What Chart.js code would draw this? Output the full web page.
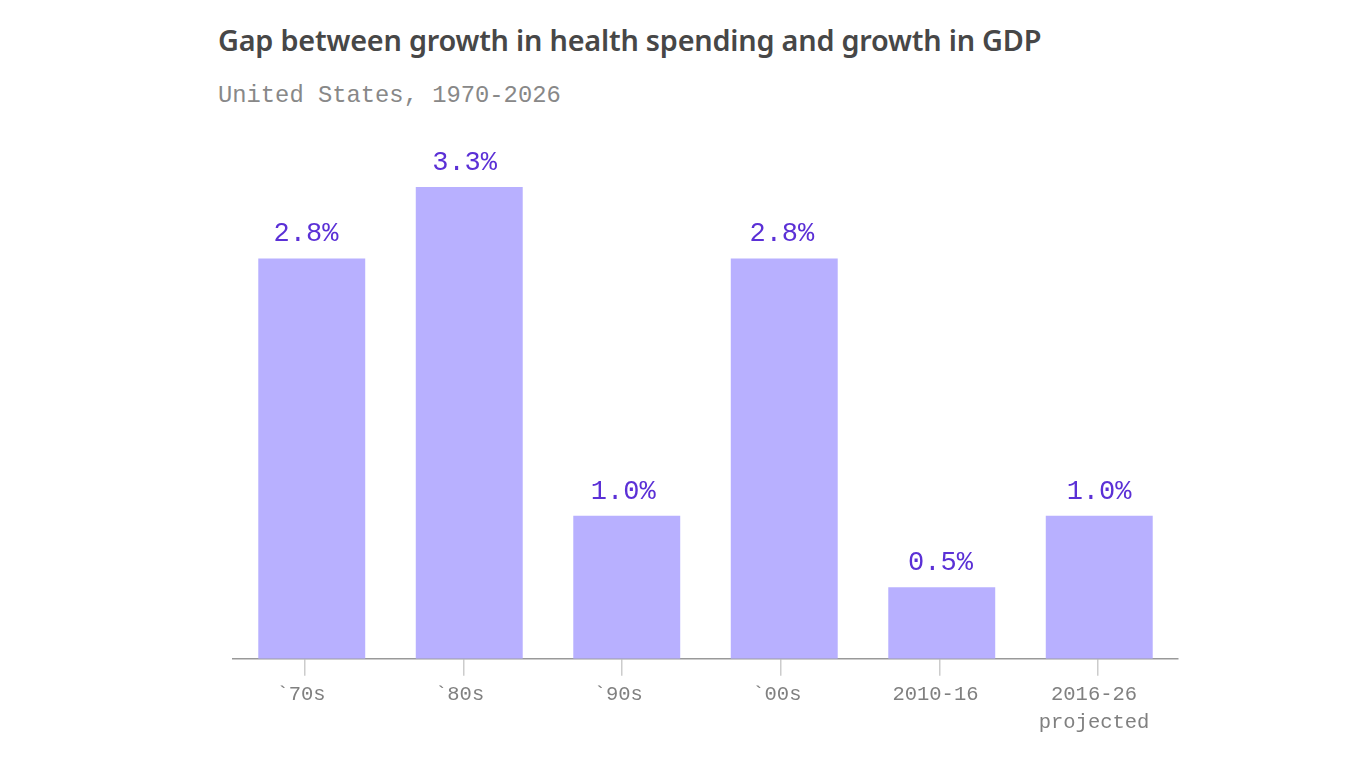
<!DOCTYPE html>
<html>
<head>
<meta charset="utf-8">
<script src="https://cdn.jsdelivr.net/npm/chart.js@4/dist/chart.umd.min.js"></script>
<style>
  html, body { margin: 0; padding: 0; background: #fff; }
  #wrap { position: relative; width: 1366px; height: 768px; }
  #title { position: absolute; left: 218px; top: 20px; font-family: 'Noto Sans', sans-serif; font-weight: 600; font-size: 28.8px; color: #474747; letter-spacing: -0.2px; }
  #subtitle { position: absolute; left: 218px; top: 82px; font-family: 'Liberation Mono', monospace; font-size: 23.8px; color: #888; }
  canvas { position: absolute; left: 0; top: 0; }
</style>
</head>
<body>
<div id="wrap">
  <div id="title">Gap between growth in health spending and growth in GDP</div>
  <div id="subtitle">United States, 1970-2026</div>
  <canvas id="gap-chart" width="1366" height="768"></canvas>
</div>
<script>
const categories = ['`70s', '`80s', '`90s', '`00s', '2010-16', ['2016-26', 'projected']];
const gapValues = [2.8, 3.3, 1.0, 2.8, 0.5, 1.0];
const valueLabels = ['2.8%', '3.3%', '1.0%', '2.8%', '0.5%', '1.0%'];

// draws the percentage over each bar, centred on the axis tick like the original
const barLabels = {
  id: 'barLabels',
  afterDatasetsDraw(chart) {
    const ctx = chart.ctx;
    const meta = chart.getDatasetMeta(0);
    const tickScale = chart.scales.xTicks;
    ctx.save();
    ctx.font = '27px "Liberation Mono", monospace';
    ctx.fillStyle = '#5b30d6';
    ctx.textAlign = 'center';
    ctx.textBaseline = 'bottom';
    meta.data.forEach((bar, i) => {
      ctx.fillText(valueLabels[i], tickScale.getPixelForValue(i) + 1, bar.y - 11);
    });
    ctx.restore();
  }
};

const ctx = document.getElementById('gap-chart').getContext('2d');
new Chart(ctx, {
  type: 'bar',
  data: {
    labels: categories,
    datasets: [{
      data: gapValues,
      backgroundColor: '#b8b0ff',
      barPercentage: 0.679,
      categoryPercentage: 1.0
    }]
  },
  options: {
    responsive: false,
    animation: false,
    layout: { padding: { left: 233, right: 188, top: 87, bottom: 26 } },
    plugins: { legend: { display: false }, tooltip: { enabled: false } },
    scales: {
      y: { display: false, min: 0, max: 4 },
      x: { display: false },
      // the axis ticks in the original sit on a slightly wider spacing than the bars
      xTicks: {
        type: 'linear',
        position: 'bottom',
        offset: false,
        min: -0.454,
        max: 5.504,
        afterBuildTicks: (scale) => {
          scale.ticks = categories.map((c, i) => ({ value: i }));
        },
        border: { color: '#999', width: 1.5 },
        grid: { offset: false, drawOnChartArea: false, color: '#ccc', lineWidth: 1.5, tickLength: 17 },
        ticks: {
          color: '#808080',
          padding: 5,
          labelOffset: -4,
          autoSkip: false,
          maxRotation: 0,
          callback: (value) => categories[value],
          font: { family: '"Liberation Mono", monospace', size: 20.5, lineHeight: 1.37 }
        }
      }
    }
  },
  plugins: [barLabels]
});
</script>
</body>
</html>
